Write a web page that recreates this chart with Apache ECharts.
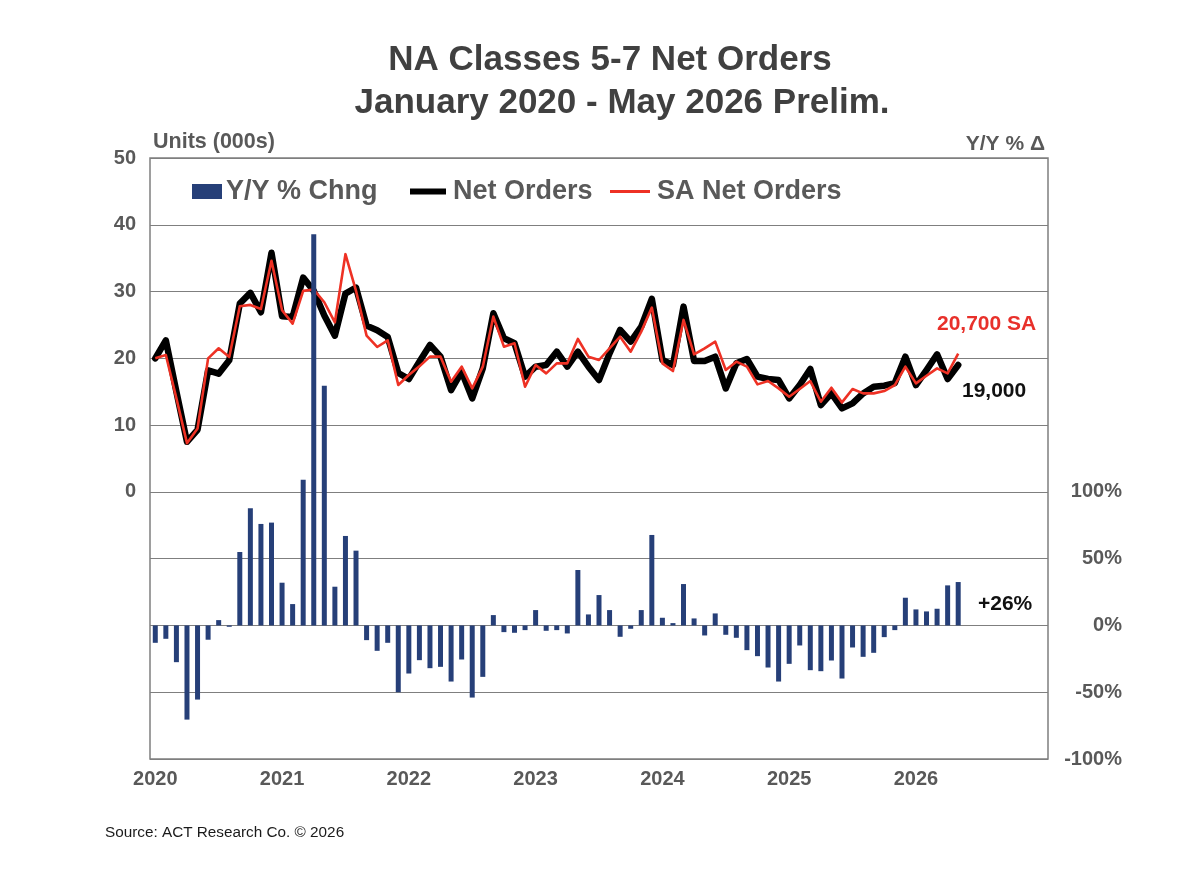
<!DOCTYPE html>
<html>
<head>
<meta charset="utf-8">
<script src="https://cdn.jsdelivr.net/npm/echarts@6/dist/echarts.min.js"></script>
<style>
html,body{margin:0;padding:0;background:#fff;}
#chart{width:1200px;height:869px;}
</style>
</head>
<body>
<div id="chart"></div>
<script>
// ---- Data (Jan 2020 - May 2026), values in thousands of units / percent ----
const years = ['2020','2021','2022','2023','2024','2025','2026','2027'];
const monthCodes = ['01','02','03','04','05','06','07','08','09','10','11','12'];

const netOrders = [
  20, 22.7, 15, 7.5, 9.3, 18.2, 17.7, 19.7, 28.2, 29.8, 26.9, 35.8,
  26.3, 26.2, 32.1, 30.1, 26.4, 23.4, 29.7, 30.6, 24.9, 24.2, 23.2, 17.8,
  16.9, 19.5, 22, 20.25, 15.25, 18, 14, 18.5, 26.75, 23, 22.25, 17.25,
  18.75, 19, 21, 18.75, 21, 18.75, 16.75, 20.75, 24.25, 22.5, 24.75, 28.9,
  19.75, 19, 27.75, 19.6, 19.6, 20.25, 15.5, 19.25, 19.9, 17.25, 16.9, 16.75,
  14, 16, 18.4, 13, 14.75, 12.5, 13.25, 14.75, 15.75, 15.9, 16.3, 20.25,
  16, 18.25, 20.6, 16.9, 19
];

const saNetOrders = [
  20, 20.5, 14, 7.3, 9.5, 20, 21.5, 20.2, 27.8, 28, 27.4, 34.6,
  27.2, 25.2, 30.1, 30.3, 28.4, 25.4, 35.6, 30.1, 23.4, 21.7, 22.7, 16,
  17.5, 18.8, 20.25, 20.25, 16.5, 18.75, 15.5, 18.75, 26.25, 21.75, 22.25, 15.75,
  19, 17.75, 19.25, 19.25, 22.9, 20.25, 19.75, 21.5, 23.25, 21, 24, 27.6,
  19.25, 18.1, 25.75, 20.6, 21.5, 22.5, 18.25, 19.5, 18.75, 16.1, 16.6, 15.5,
  14.25, 15.4, 16.6, 13.5, 15.6, 13.4, 15.4, 14.75, 14.75, 15.1, 16, 18.75,
  16.25, 17.4, 18.5, 17.75, 20.7
];

const yoyChange = [
  -13, -10, -27.5, -70.5, -55.5, -10.7, 4, -1, 55, 87.75, 76, 77,
  32, 16, 109, 293, 179.5, 29, 67, 56, -11, -19, -13, -50,
  -36, -26, -32, -31, -42, -25.5, -54, -38.5, 7.75, -5, -5.5, -3.5,
  11.5, -4, -3.5, -6, 41.5, 8.25, 22.75, 11.5, -8.5, -2.5, 11.5, 67.75,
  5.75, 1.75, 31, 5.25, -7.5, 9, -7, -9.25, -18.5, -23, -31.5, -42,
  -28.75, -15, -33.5, -34.25, -26.25, -39.75, -16.5, -23.5, -20.5, -8.75, -3.5, 20.75,
  12, 10.5, 12.5, 30, 32.5
];

const leftTicks = [0, 10, 20, 30, 40, 50];
const rightTicks = [-100, -50, 0, 50, 100];

const titleLine1 = 'NA Classes 5-7 Net Orders';
const titleLine2 = 'January 2020 - May 2026 Prelim.';
const endLabelSA = '20,700 SA';
const endLabelNet = '19,000';
const endLabelYoy = '+26%';

// month categories Jan 2020 .. Jan 2027 (axis runs one month past Dec 2026)
const months = [];
years.forEach(function (y) {
  monthCodes.forEach(function (m) {
    if (y === '2027' && m !== '01') return;
    months.push(y + '-' + m);
  });
});

const gray = '#595959';
const font = 'Liberation Sans, Arial, sans-serif';
const legendText = {fontFamily: font, fontSize: 27, fontWeight: 'bold', color: gray};

const chart = echarts.init(document.getElementById('chart'), null, {renderer: 'canvas'});

const option = {
  backgroundColor: '#ffffff',
  animation: false,
  title: [
    {text: titleLine1, left: 605, top: 36, textAlign: 'center',
     textStyle: {fontFamily: font, fontSize: 35, fontWeight: 'bold', color: '#404040', lineHeight: 38}},
    {text: titleLine2, left: 617, top: 79, textAlign: 'center',
     textStyle: {fontFamily: font, fontSize: 35, fontWeight: 'bold', color: '#404040', lineHeight: 38}}
  ],
  legend: [
    {data: [{name: 'Y/Y % Chng', icon: 'rect'}], left: 187, top: 173, itemWidth: 30, itemHeight: 15, itemGap: 0,
     selectedMode: false, textStyle: Object.assign({padding: [0,0,0,-1]}, legendText)},
    {data: [{name: 'Net Orders', icon: 'rect'}], left: 405, top: 173, itemWidth: 36, itemHeight: 6, itemGap: 0,
     selectedMode: false, textStyle: Object.assign({padding: [0,0,0,2]}, legendText)},
    {data: [{name: 'SA Net Orders', icon: 'rect'}], left: 605, top: 173, itemWidth: 40, itemHeight: 3, itemGap: 0,
     selectedMode: false, textStyle: Object.assign({padding: [0,0,0,2]}, legendText)}
  ],
  grid: {
    left: 150, right: 152, top: 158, bottom: 110,
    show: true, borderColor: '#7f7f7f', borderWidth: 1.5, backgroundColor: 'transparent'
  },
  xAxis: {
    type: 'category',
    data: months,
    boundaryGap: true,
    axisLine: {show: false},
    axisTick: {show: false},
    splitLine: {show: false},
    axisLabel: {
      interval: function (index) { return index % 12 === 0 && index < 84; },
      formatter: function (v) { return v.slice(0, 4); },
      margin: 10,
      fontFamily: font, fontSize: 20, fontWeight: 'bold', color: gray
    }
  },
  yAxis: [
    {
      type: 'value', min: -40, max: 50, interval: 10,
      axisLine: {show: false}, axisTick: {show: false},
      splitLine: {show: true, lineStyle: {color: '#7f7f7f', width: 1.2}},
      axisLabel: {
        margin: 14,
        formatter: function (v) { return leftTicks.indexOf(v) >= 0 ? String(v) : ''; },
        fontFamily: font, fontSize: 20, fontWeight: 'bold', color: gray
      }
    },
    {
      type: 'value', min: -100, max: 350, interval: 50, position: 'right',
      axisLine: {show: false}, axisTick: {show: false},
      splitLine: {show: false},
      axisLabel: {
        margin: 74, align: 'right',
        formatter: function (v) { return rightTicks.indexOf(v) >= 0 ? v + '%' : ''; },
        fontFamily: font, fontSize: 20, fontWeight: 'bold', color: gray
      }
    }
  ],
  graphic: [
    {type: 'text', left: 153, top: 131,
     style: {text: 'Units (000s)', fontFamily: font, fontSize: 21.5, fontWeight: 'bold', fill: gray}},
    {type: 'text', right: 155, top: 134,
     style: {text: 'Y/Y % \u0394', fontFamily: font, fontSize: 21, fontWeight: 'bold', fill: gray}},
    {type: 'text', left: 937, top: 314,
     style: {text: endLabelSA, fontFamily: font, fontSize: 21, fontWeight: 'bold', fill: '#e8302a'}},
    {type: 'text', left: 962, top: 381,
     style: {text: endLabelNet, fontFamily: font, fontSize: 21, fontWeight: 'bold', fill: '#111111'}},
    {type: 'text', left: 978, top: 594,
     style: {text: endLabelYoy, fontFamily: font, fontSize: 21, fontWeight: 'bold', fill: '#111111'}},
    {type: 'text', left: 105, top: 825,
     style: {text: 'Source: ACT Research Co. \u00A9 2026', fontFamily: font, fontSize: 15.3, fill: '#1a1a1a'}}
  ],
  series: [
    {
      name: 'Net Orders', type: 'line', yAxisIndex: 0, data: netOrders,
      symbol: 'none', smooth: false, z: 2,
      lineStyle: {color: '#000000', width: 6.5, join: 'round', cap: 'round'},
      itemStyle: {color: '#000000'}
    },
    {
      name: 'SA Net Orders', type: 'line', yAxisIndex: 0, data: saNetOrders,
      symbol: 'none', smooth: false, z: 3,
      lineStyle: {color: '#ee3124', width: 2.6, join: 'round'},
      itemStyle: {color: '#ee3124'}
    },
    {
      name: 'Y/Y % Chng', type: 'bar', yAxisIndex: 1, data: yoyChange,
      barWidth: 5, z: 4,
      itemStyle: {color: '#263f78'}
    }
  ]
};

chart.setOption(option);
</script>
</body>
</html>
